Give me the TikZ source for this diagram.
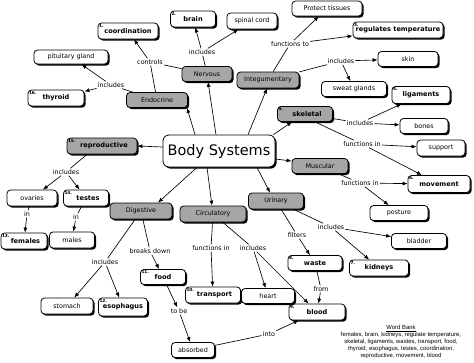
\documentclass[tikz,border=0pt]{standalone}
\usepackage{fontspec}
\setmainfont{DejaVu Sans}
\newfontfamily\wbfont{Liberation Sans}
\usetikzlibrary{arrows.meta,shadows}
\tikzset{
  box/.style={draw=black, line width=0.8pt, fill=white, rounded corners=3.5pt,
    inner sep=1pt, font=\fontsize{6.4}{7.5}\selectfont,
    drop shadow={shadow xshift=1.6pt, shadow yshift=-1.6pt, fill=black, opacity=1}},
  sys/.style={box, fill=black!35},
  bx/.style 2 args={box, minimum width=#1pt, minimum height=#2pt},
  sx/.style 2 args={sys, minimum width=#1pt, minimum height=#2pt},
  bold/.style={font=\fontsize{6.6}{7.5}\selectfont\bfseries},
  num/.style={label={[font=\fontsize{4.3}{5}\selectfont\bfseries, inner sep=0pt,
    anchor=north west, xshift=1.2pt, yshift=-1.2pt]north west:#1}},
  lab/.style={font=\fontsize{6.4}{7.5}\selectfont, inner sep=1pt},
  arr/.style={-{Latex[length=5pt,width=4pt]}, line width=0.65pt},
  ln/.style={line width=0.65pt},
}
\begin{document}
\begin{tikzpicture}[x=1pt,y=-1pt]
\useasboundingbox (0,0) rectangle (474,362);
% central node
\node[box, rounded corners=6pt, minimum width=112pt, minimum height=32pt,
  font=\fontsize{14.5}{16}\selectfont] (body) at (219,151) {Body Systems};
% systems
\node[sx={61}{15}] (endo) at (157,100) {Endocrine};
\node[sx={50}{15}] (nerv) at (207,74) {Nervous};
\node[sx={62}{16}] (integ) at (268,80) {Integumentary};
\node[sx={55}{15}, bold, num=5.] (skel) at (305,114) {\hspace{4pt}skeletal};
\node[sx={56}{15}] (musc) at (320,166) {Muscular};
\node[sx={55}{16}] (urin) at (276,201) {Urinary};
\node[sx={66}{16}] (circ) at (213,214) {Circulatory};
\node[sx={62}{16}] (dig) at (141,211) {Digestive};
\node[sx={70}{16}, bold, num=15.] (repro) at (102,146) {\hspace{4pt}reproductive};
% leaves
\node[bx={60}{16}, bold, num=1.] (coord) at (128,31) {coordination};
\node[bx={74}{14}] (pit) at (71,57) {pituitary gland};
\node[bx={56}{16}, bold, num=16.] (thy) at (56,98) {thyroid};
\node[bx={45}{16}, bold, num=2.] (brain) at (193,19) {brain};
\node[bx={50}{16}] (spinal) at (252,21) {spinal cord};
\node[bx={70}{15}] (prot) at (327,8.5) {Protect tissues};
\node[bx={90}{16}, bold, num=3.] (regt) at (398,30) {regulates temperature};
\node[bx={60}{15}] (skin) at (408,59) {skin};
\node[bx={65}{15}] (sweat) at (354,89) {sweat glands};
\node[bx={58}{17}, bold, num=4.] (lig) at (421,95) {ligaments};
\node[bx={48}{15}] (bones) at (424,126) {bones};
\node[bx={48}{16}] (supp) at (441,148) {support};
\node[bx={62}{17}, bold, num=6.] (move) at (439,184) {movement};
\node[bx={58}{15}] (post) at (399,213) {posture};
\node[bx={55}{15}] (blad) at (419,241) {bladder};
\node[bx={59}{16}, bold, num=7.] (kid) at (379,268) {kidneys};
\node[bx={54}{15}, bold, num=8.] (waste) at (315,263) {waste};
\node[bx={56}{16}, bold, num=9.] (blood) at (317,312) {blood};
\node[bx={55}{16}, bold, num=10.] (trans) at (213,295) {\hspace{3pt}transport};
\node[bx={53}{15}] (heart) at (268,296) {heart};
\node[bx={43}{15}] (abs) at (193,350) {absorbed};
\node[bx={45}{15}, bold, num=11.] (food) at (163,277) {food};
\node[bx={52}{16}] (stom) at (67,306) {stomach};
\node[bx={49}{18}, bold, num=12.] (eso) at (123,307) {\raisebox{-2.5pt}{esophagus}};
\node[bx={50}{16}] (ova) at (32,198) {ovaries};
\node[bx={45}{16}, bold, num=14.] (test) at (86,198) {\hspace{4pt}testes};
\node[bx={46}{16}, bold, num=13.] (fem) at (24,241) {\hspace{3pt}females};
\node[bx={45}{16}] (male) at (72,240) {males};
% linking labels
\node[lab] (lcontrols) at (150,62) {controls};
\node[lab] (lendinc) at (111,85) {includes};
\node[lab] (lnervinc) at (202,52) {includes};
\node[lab] (lfuncto) at (290,44) {functions to};
\node[lab] (lintinc) at (341,61) {includes};
\node[lab] (lskelinc) at (360,123) {includes};
\node[lab] (lskelfn) at (362,144) {functions in};
\node[lab] (lmuscfn) at (360,183) {functions in};
\node[lab] (lurininc) at (331,227) {includes};
\node[lab] (lfilt) at (297,235) {filters};
\node[lab] (lfrom) at (321,289) {from};
\node[lab] (lcircfn) at (211,248) {functions in};
\node[lab] (lcircinc) at (253,248) {includes};
\node[lab] (lbreak) at (150,251) {breaks down};
\node[lab] (ldiginc) at (105,262) {includes};
\node[lab] (ltobe) at (179,311) {to be};
\node[lab] (linto) at (269,334) {into};
\node[lab] (lrepinc) at (66,172) {includes};
\node[lab] (lin1) at (27,214) {in};
\node[lab] (lin2) at (76,217) {in};
% word bank
\node[font=\wbfont\fontsize{5.9}{6.8}\selectfont, align=center, inner sep=0pt] (wb) at (401,342)
  {\underline{Word Bank}\\females, brain, kidneys, regulate temperature,\\skeletal, ligaments, wastes, transport, food,\\thyroid, esophagus, testes, coordination,\\reproductive, movement, blood};
% body connectors
\draw[arr] ([xshift=-24pt]body.north) -- ([xshift=30pt]endo.south);
\draw[arr] ([xshift=-3pt]body.north) -- ([xshift=1pt]nerv.south);
\draw[arr] ([xshift=29pt]body.north) -- ([xshift=-1pt]integ.south);
\draw[arr] ([xshift=-2pt]body.north east) -- ([xshift=-13pt]skel.south);
\draw[arr] ([yshift=-8pt]body.east) -- ([yshift=5pt]musc.west);
\draw[arr] ([yshift=4pt]body.west) -- (repro.east);
\draw[arr] ([xshift=-22pt]body.south) -- ([xshift=17pt]dig.north);
\draw[arr] ([xshift=-12pt]body.south) -- ([xshift=-1pt]circ.north);
\draw[arr] ([xshift=38pt]body.south) -- ([xshift=-6pt]urin.north);
% endocrine / nervous
\draw[ln] (endo) -- (lcontrols);
\draw[ln] (nerv) -- (lcontrols);
\draw[arr] (lcontrols) -- (coord);
\draw[ln] (endo) -- (lendinc);
\draw[arr] (lendinc) -- (pit);
\draw[arr] (lendinc) -- (thy);
\draw[ln] (nerv) -- (lnervinc);
\draw[arr] (lnervinc) -- (brain);
\draw[arr] (lnervinc) -- (spinal);
% integumentary
\draw[ln] (integ) -- (lfuncto);
\draw[arr] (lfuncto) -- (prot);
\draw[arr] (lfuncto) -- (regt);
\draw[ln] (integ) -- (lintinc);
\draw[arr] (lintinc) -- (skin);
\draw[arr] (lintinc) -- (sweat);
% skeletal
\draw[ln] (skel) -- (lskelinc);
\draw[arr] (lskelinc) -- (lig);
\draw[arr] (lskelinc) -- (bones);
\draw[ln] ([xshift=10pt]skel.south) -- (lskelfn);
\draw[arr] (lskelfn) -- (supp);
\draw[arr] (lskelfn) -- (move);
% muscular
\draw[ln] (musc) -- (lmuscfn);
\draw[arr] (lmuscfn) -- (move);
\draw[arr] (lmuscfn) -- (post);
% urinary
\draw[ln] (urin) -- (lurininc);
\draw[arr] (lurininc) -- (blad);
\draw[arr] (lurininc) -- (kid);
\draw[ln] (urin) -- (lfilt);
\draw[arr] (lfilt) -- (waste);
\draw[ln] (waste) -- (lfrom);
\draw[arr] (lfrom) -- (blood);
% circulatory
\draw[ln] (circ) -- (lcircfn);
\draw[arr] (lcircfn) -- (trans);
\draw[ln] (circ) -- (lcircinc);
\draw[arr] (lcircinc) -- (heart);
\draw[arr] (lcircinc) -- (blood);
% digestive
\draw[ln] (dig) -- (lbreak);
\draw[arr] (lbreak) -- (food);
\draw[ln] (dig) -- (ldiginc);
\draw[arr] (ldiginc) -- (stom);
\draw[arr] (ldiginc) -- (eso);
\draw[arr] (food) -- (ltobe);
\draw[arr] (ltobe) -- (abs);
\draw[ln] (abs) -- (linto);
\draw[arr] (linto) -- (blood);
% reproductive
\draw[ln] ([xshift=-15pt]repro.south) -- (lrepinc);
\draw[arr] (lrepinc) -- (ova);
\draw[arr] (lrepinc) -- (test);
\draw[ln] (ova) -- (lin1);
\draw[arr] (lin1) -- (fem);
\draw[ln] (test) -- (lin2);
\draw[arr] (lin2) -- (male);
\end{tikzpicture}
\end{document}
